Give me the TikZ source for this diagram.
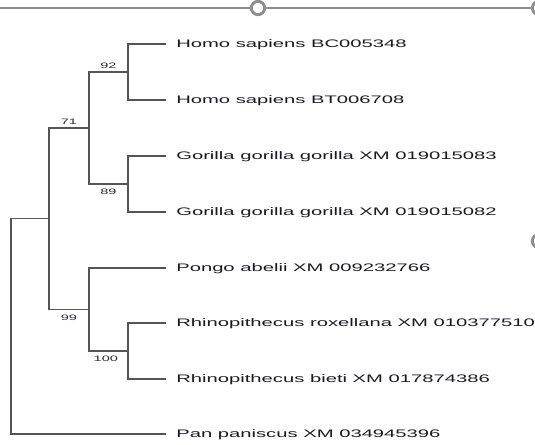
\documentclass[tikz,border=0pt]{standalone}
\usepackage{fontspec}
\setmainfont{Liberation Sans}[FakeStretch=1.85]
\definecolor{treegray}{HTML}{555555}
\definecolor{railgray}{HTML}{8E8E8E}
\definecolor{labelink}{HTML}{1A1A24}
\definecolor{bootink}{HTML}{2A2A36}
\begin{document}
\begin{tikzpicture}[x=0.75pt,y=-0.75pt,
  branch/.style={draw=treegray,line width=0.8pt},
  leaf/.style={anchor=west,inner xsep=7.5pt,inner ysep=0pt,text height=5.8pt,text depth=0pt,font=\fontsize{8.2}{9}\selectfont,text=labelink},
  boot/.style={inner sep=0pt,text height=4.2pt,text depth=0pt,font=\fontsize{5.9}{6}\selectfont,text=bootink,pos=0.75},
  rail/.style={draw=railgray,line width=0.9pt},
  knob/.style={circle,draw=railgray,fill=white,line width=2.2pt,minimum size=10pt,inner sep=0pt}]
\useasboundingbox (0,0) rectangle (535,445);
\clip (0,0) rectangle (535,445);
% slider bar at the top
\draw[rail] (0,8) -- (535,8);
\node[knob] (k1) at (258,8) {};
\node[knob] (k2) at (539,8) {};
\node[knob] (k3) at (539,241) {};
% taxa
\node[leaf] (hsA) at (166,44) {Homo sapiens BC005348};
\node[leaf] (hsB) at (166,100) {Homo sapiens BT006708};
\node[leaf] (ggA) at (166,156) {Gorilla gorilla gorilla XM 019015083};
\node[leaf] (ggB) at (166,212) {Gorilla gorilla gorilla XM 019015082};
\node[leaf] (pab) at (166,268) {Pongo abelii XM 009232766};
\node[leaf] (rro) at (166,323) {Rhinopithecus roxellana XM 010377510};
\node[leaf] (rbi) at (166,379) {Rhinopithecus bieti XM 017874386};
\node[leaf] (ppa) at (166,434) {Pan paniscus XM 034945396};
% inner nodes
\coordinate (n92) at (128,72);
\coordinate (n89) at (128,184);
\coordinate (n71) at (89,128);
\coordinate (n100) at (128,351);
\coordinate (n99) at (89,309.5);
\coordinate (nin) at (49,218.5);
\coordinate (root) at (11,326);
% branches
\draw[branch] (n92) |- (hsA.west);
\draw[branch] (n92) |- (hsB.west);
\draw[branch] (n89) |- (ggA.west);
\draw[branch] (n89) |- (ggB.west);
\draw[branch] (n71) |- node[boot,yshift=4.8pt] (b92) {92} (n92);
\draw[branch] (n71) |- node[boot,yshift=-6pt] (b89) {89} (n89);
\draw[branch] (n100) |- (rro.west);
\draw[branch] (n100) |- (rbi.west);
\draw[branch] (n99) |- (pab.west);
\draw[branch] (n99) |- node[boot,yshift=-6pt,xshift=-2pt] (b100) {100} (n100);
\draw[branch] (nin) |- node[boot,yshift=4.8pt] (b71) {71} (n71);
\draw[branch] (nin) |- node[boot,yshift=-6pt] (b99) {99} (n99);
\draw[branch] (root) |- (nin);
\draw[branch] (root) |- (ppa.west);
\end{tikzpicture}
\end{document}
